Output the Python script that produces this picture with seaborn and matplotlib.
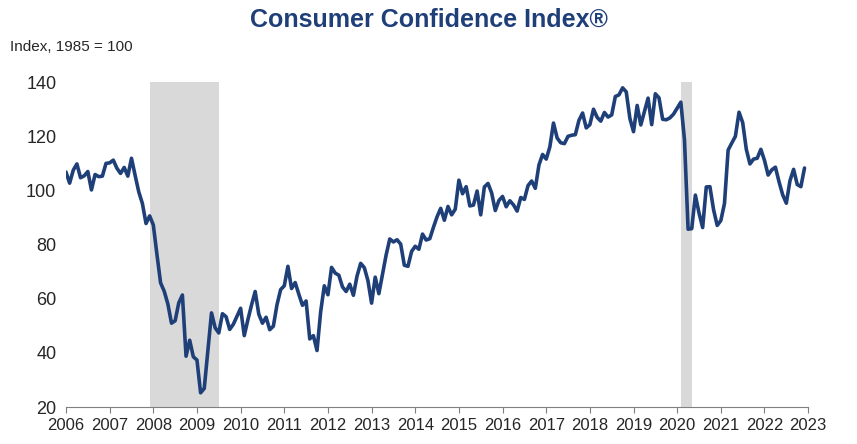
import numpy as np
import pandas as pd
import seaborn as sns
import matplotlib.pyplot as plt

# Monthly index values, Jan 2006 - Dec 2022
y2006 = [106.8, 102.7, 107.5, 109.8, 104.7, 105.4, 107.0, 100.2, 105.9, 105.1, 105.3, 110.0]
y2007 = [110.2, 111.2, 108.2, 106.3, 108.5, 105.3, 111.9, 105.6, 99.5, 95.2, 87.8, 90.6]
y2008 = [87.3, 76.4, 65.9, 62.8, 58.1, 51.0, 51.9, 58.5, 61.4, 38.8, 44.7, 38.6]
y2009 = [37.4, 25.3, 26.9, 40.8, 54.8, 49.3, 47.4, 54.5, 53.4, 48.7, 50.6, 53.6]
y2010 = [56.5, 46.4, 52.3, 57.7, 62.7, 54.3, 51.0, 53.2, 48.6, 49.9, 57.8, 63.4]
y2011 = [64.8, 72.0, 63.8, 66.0, 61.7, 57.6, 59.2, 45.2, 46.4, 40.9, 55.2, 64.8]
y2012 = [61.5, 71.6, 69.5, 68.7, 64.4, 62.7, 65.4, 61.3, 68.4, 73.1, 71.5, 66.7]
y2013 = [58.4, 68.0, 61.9, 69.0, 76.2, 82.1, 81.0, 81.8, 80.2, 72.4, 72.0, 77.5]
y2014 = [79.4, 78.3, 83.9, 81.7, 82.2, 86.4, 90.3, 93.4, 89.0, 94.1, 91.0, 93.1]
y2015 = [103.8, 98.8, 101.4, 94.3, 94.6, 99.8, 91.0, 101.3, 102.6, 99.1, 92.6, 96.3]
y2016 = [97.8, 94.0, 96.2, 94.7, 92.4, 97.4, 96.7, 101.8, 103.5, 100.8, 109.4, 113.3]
y2017 = [111.6, 116.1, 124.9, 119.4, 117.6, 117.3, 120.0, 120.4, 120.6, 125.9, 128.6, 123.1]
y2018 = [124.3, 130.0, 127.0, 125.6, 128.8, 127.1, 127.9, 134.7, 135.3, 137.9, 136.4, 126.6]
y2019 = [121.7, 131.4, 124.2, 129.2, 134.1, 124.3, 135.7, 134.2, 126.3, 126.1, 126.8, 128.2]
y2020 = [130.4, 132.6, 118.8, 85.7, 85.9, 98.3, 91.7, 86.3, 101.3, 101.4, 92.9, 87.1]
y2021 = [88.9, 95.2, 114.9, 117.5, 120.0, 128.9, 125.1, 115.2, 109.8, 111.6, 111.9, 115.2]
y2022 = [111.1, 105.7, 107.6, 108.6, 103.2, 98.4, 95.3, 103.6, 107.8, 102.2, 101.4, 108.3]

values = (y2006 + y2007 + y2008 + y2009 + y2010 + y2011 + y2012 + y2013 + y2014
          + y2015 + y2016 + y2017 + y2018 + y2019 + y2020 + y2021 + y2022)
recessions = [(2007 + 11/12, 2009 + 6/12), (2020 + 1/12, 2020 + 4/12)]
years = list(range(2006, 2024))

df = pd.DataFrame({'t': 2006 + np.arange(len(values)) / 12, 'v': values})

sns.set_style('white')
plt.rcParams['font.family'] = ['Liberation Sans', 'DejaVu Sans']

fig, ax = plt.subplots(figsize=(8.57, 4.44), dpi=100)
fig.subplots_adjust(left=0.077, right=0.943, top=0.815, bottom=0.083)

for a, b in recessions:
    ax.axvspan(a, b, color='#d9d9d9', lw=0, zorder=0)

sns.lineplot(data=df, x='t', y='v', ax=ax, color='#1f3f78', lw=2.6)

ax.set_xlim(2006, 2023)
ax.set_ylim(20, 140)
ax.set_xticks(years)
ax.set_xticklabels([str(y) for y in years], fontsize=12)
ax.set_yticks(range(20, 141, 20))
ax.tick_params(axis='y', labelsize=13)
ax.tick_params(axis='x', direction='out', length=4, color='#808080', bottom=True)
ax.set_xlabel('')
ax.set_ylabel('')
for s in ['top', 'right', 'left']:
    ax.spines[s].set_visible(False)
ax.spines['bottom'].set_color('#808080')

fig.text(0.5, 0.955, 'Consumer Confidence Index®', ha='center', va='center',
         fontsize=18, fontweight='bold', color='#1f3f78')
fig.text(0.012, 0.895, 'Index, 1985 = 100', ha='left', va='center', fontsize=11)

fig.savefig('out.png')
